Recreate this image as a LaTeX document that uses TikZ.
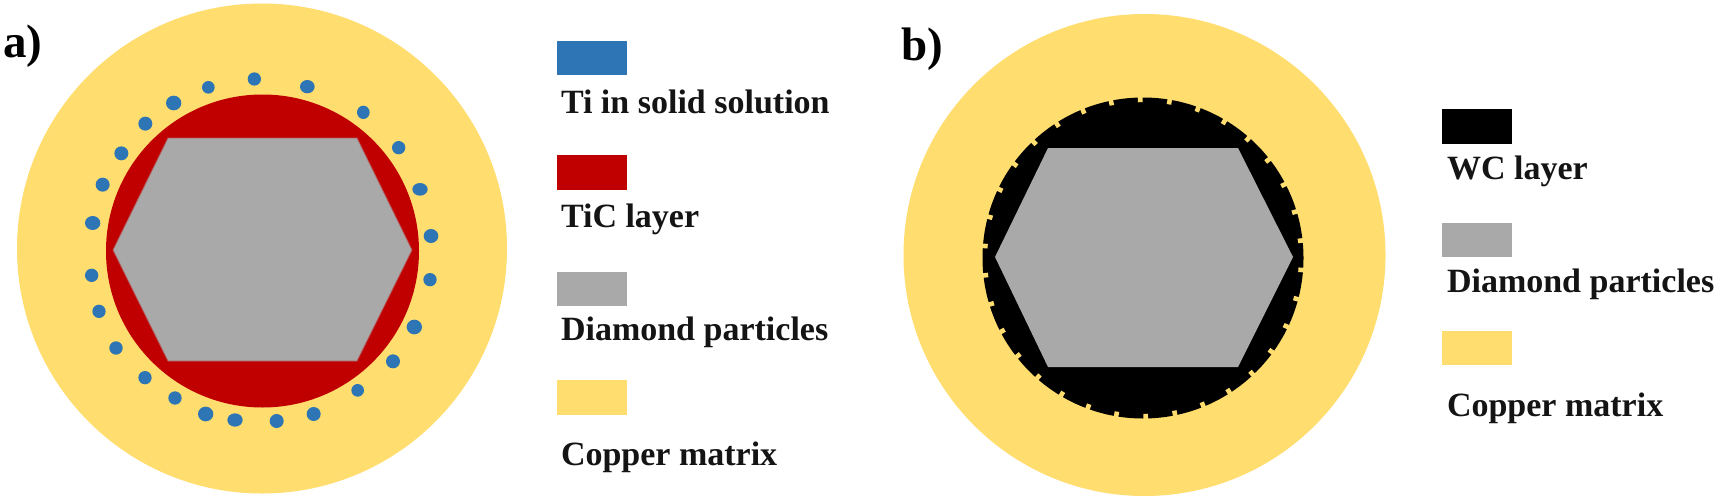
\documentclass[tikz,border=0pt]{standalone}
\usepackage{fontspec}
\usetikzlibrary{calc}
\setmainfont{Liberation Serif}
\definecolor{copper}{HTML}{FFDD6E}
\definecolor{ticred}{HTML}{C00000}
\definecolor{diamond}{HTML}{A9A9A9}
\definecolor{tiblue}{HTML}{2E75B6}
\tikzset{
  legendtext/.style={anchor=base west,inner sep=0pt,outer sep=0pt,font=\fontsize{34}{36}\selectfont\bfseries,text=black!92},
  paneltext/.style={anchor=base west,inner sep=0pt,outer sep=0pt,font=\fontsize{47}{50}\selectfont\bfseries},
  matrixfill/.style={fill=copper},
  tidot/.style={fill=tiblue},
  gemfill/.style={fill=diamond},
  notchline/.style={draw=copper,line width=4.6pt}
}
\begin{document}
\begin{tikzpicture}[x=1pt,y=-1pt]
\useasboundingbox (0,0) rectangle (1720,503);
\fill[white] (0,0) rectangle (1720,503);
% panel a
\fill[matrixfill] (262,248.5) circle[radius=245];
\fill[ticred] (262.5,251) circle[radius=156.5];
\fill[gemfill,draw=ticred!45!diamond,line width=0.8pt] (113,250) -- (168,138) -- (357,138) -- (412,250) -- (357,361) -- (168,361) -- cycle;
\foreach \px/\py/\rx/\ry in {
 763/237/20/20, 922/260/22/20, 1090/337/19/20, 1196/443/20/20, 1260/568/23/19,
 1293/708/22/21, 1290/839/20/20, 1243/981/23/22, 1179/1084/21/21, 1073/1171/19/19,
 941/1242/21/21, 830/1263/21/21, 705/1260/23/20, 617/1242/23/22, 525/1194/20/20,
 435/1133/20/20, 348/1044/20/20, 297/934/20/20, 275/826/20/20, 278/669/23/21,
 308/554/21/21, 364/460/21/21, 436/371/21/21, 521/309/23/22, 625/262/19/19}
 {\fill[tidot] ({\px/3},{\py/3}) ellipse[x radius={\rx/3},y radius={\ry/3}];}
\node[paneltext] (la) at (3,57.5) {a)};
% legend a
\fill[tiblue] (557,41) rectangle (627,75);
\node[legendtext] (ta) at (561,113) {Ti in solid solution};
\fill[ticred] (557,155) rectangle (627,190);
\node[legendtext] (tb) at (561,227) {TiC layer};
\fill[diamond] (557,272) rectangle (627,306);
\node[legendtext] (tc) at (561,340) {Diamond particles};
\fill[copper] (557,380) rectangle (627,415);
\node[legendtext] (td) at (561,465) {Copper matrix};
% panel b
\fill[matrixfill] (1144.5,255) circle[radius=241];
\coordinate (bc) at (1143,258);
\fill[black] (bc) circle[radius=160.5];
\foreach \k in {0,...,33}{
  \pgfmathsetmacro{\ang}{91-\k*10.59}
  \draw[notchline] ($(bc)+(\ang:155.8pt)$) -- ($(bc)+(\ang:164pt)$);
}
\fill[gemfill] (995,257) -- (1048,148) -- (1238,148) -- (1293,257) -- (1238,367) -- (1048,367) -- cycle;
\node[paneltext] (lb) at (901,60) {b)};
% legend b
\fill[black] (1442,109) rectangle (1512,144);
\node[legendtext] (te) at (1447,179) {WC layer};
\fill[diamond] (1442,223) rectangle (1512,257);
\node[legendtext] (tf) at (1447,292) {Diamond particles};
\fill[copper] (1442,331) rectangle (1512,365);
\node[legendtext] (tg) at (1447,416) {Copper matrix};
\end{tikzpicture}
\end{document}
